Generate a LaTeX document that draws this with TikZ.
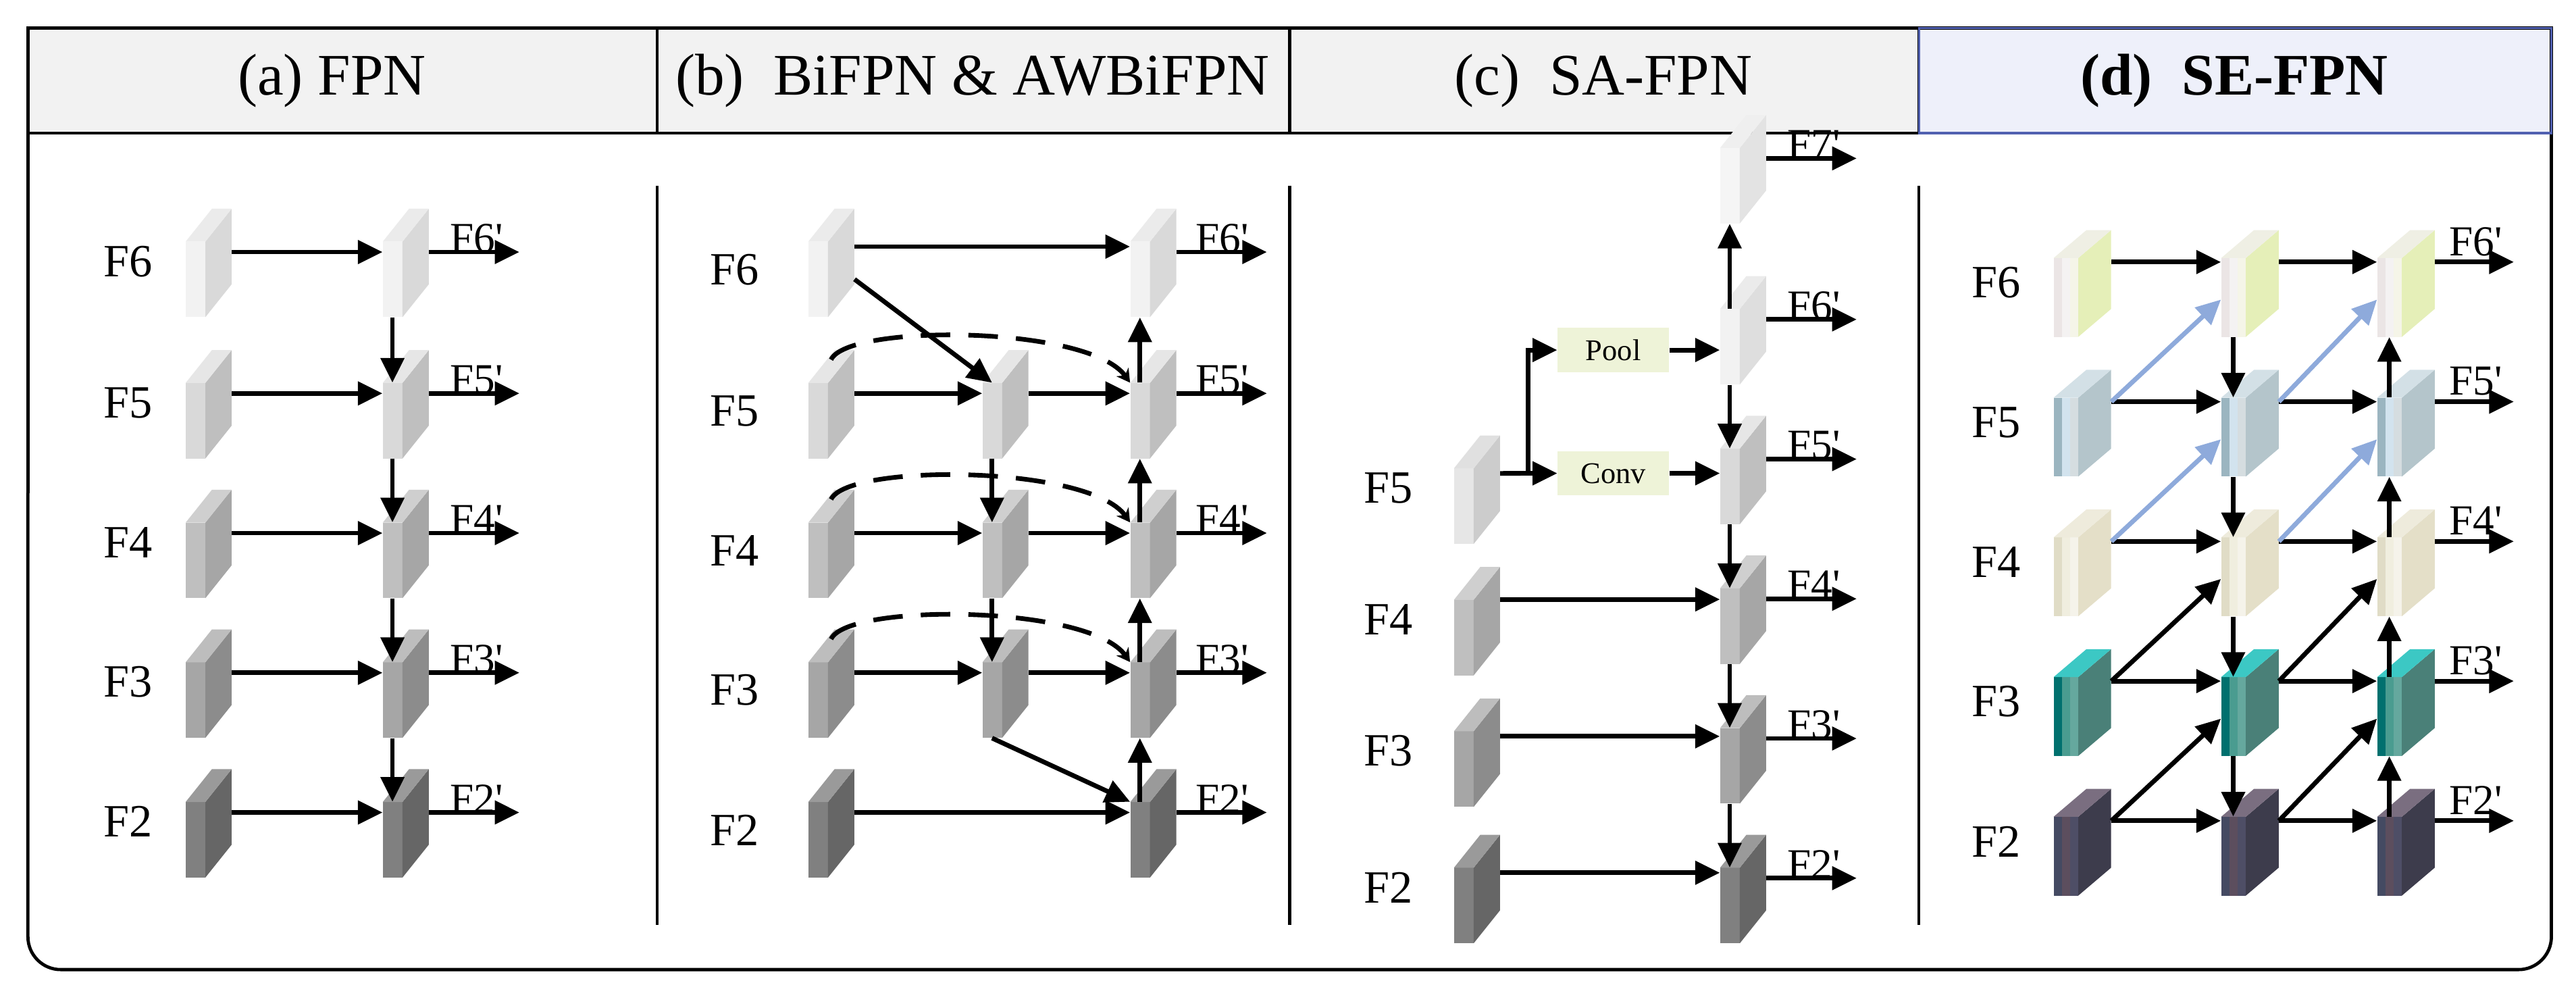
\documentclass[tikz,border=0pt]{standalone}
\usepackage{fontspec}
\setmainfont{Liberation Serif}
\usetikzlibrary{arrows.meta,calc,fit}
\newcommand\pr{\textquotesingle}
\definecolor{hdr}{HTML}{F2F2F2}
\definecolor{hdrd}{HTML}{EEF0FA}
\definecolor{hdrdb}{HTML}{5060B0}
\definecolor{pbg}{HTML}{EEF3D8}
\definecolor{blu}{HTML}{8EAADB}
\newcommand\blk[6]{% name x top front side top (hex)
  \definecolor{tf}{HTML}{#4}\definecolor{ts}{HTML}{#5}\definecolor{tp}{HTML}{#6}%
  \fill[tf] (#2,{#3+\dy}) rectangle ({#2+\fw},{#3+\dy+\hh});
  \fill[ts] ({#2+\fw},{#3+\dy}) -- ({#2+\fw+\dx},#3) -- ({#2+\fw+\dx},{#3+\hh}) -- ({#2+\fw},{#3+\dy+\hh}) -- cycle;
  \fill[tp] (#2,{#3+\dy}) -- ({#2+\dx},#3) -- ({#2+\fw+\dx},#3) -- ({#2+\fw},{#3+\dy}) -- cycle;
  \node[inner sep=0pt,fit={(#2,#3) ({#2+\fw+\dx},{#3+\dy+\hh})}] (#1) {};}
\newcommand\sblk[8]{% name x top c1 c2 c3 side top (hex)
  \definecolor{ta}{HTML}{#4}\definecolor{tb}{HTML}{#5}\definecolor{tc}{HTML}{#6}%
  \definecolor{ts}{HTML}{#7}\definecolor{tp}{HTML}{#8}%
  \fill[ta] (#2,{#3+\dy}) rectangle ({#2+\fw/3},{#3+\dy+\hh});
  \fill[tb] ({#2+\fw/3},{#3+\dy}) rectangle ({#2+2*\fw/3},{#3+\dy+\hh});
  \fill[tc] ({#2+2*\fw/3},{#3+\dy}) rectangle ({#2+\fw},{#3+\dy+\hh});
  \fill[ts] ({#2+\fw},{#3+\dy}) -- ({#2+\fw+\dx},#3) -- ({#2+\fw+\dx},{#3+\hh}) -- ({#2+\fw},{#3+\dy+\hh}) -- cycle;
  \fill[tp] (#2,{#3+\dy}) -- ({#2+\dx},#3) -- ({#2+\fw+\dx},#3) -- ({#2+\fw},{#3+\dy}) -- cycle;
  \node[inner sep=0pt,fit={(#2,#3) ({#2+\fw+\dx},{#3+\dy+\hh})}] (#1) {};}
\newcommand\E[2]{($(#1.north east)!#2!(#1.south east)$)}
\newcommand\W[2]{($(#1.north west)!#2!(#1.south west)$)}
\newcommand\B[1]{($(#1.south west)+(\fw/2,0)$)}
\newcommand\T[1]{($(#1.north west)+(\fw/2,\dy)$)}
\tikzset{
 ar/.style={line width=4pt,-{Triangle[length=0.75cm,width=0.7cm]}},
 bar/.style={ar,draw=blu},
 dsh/.style={line width=4pt,dash pattern=on 0.9cm off 0.55cm,-{Stealth[length=0.4cm,width=0.45cm]}},
 lab/.style={font=\fontsize{40}{44}\selectfont,inner sep=0pt},
 olab/.style={font=\fontsize{37}{40}\selectfont,inner sep=0pt},
 head/.style={font=\fontsize{51}{56}\selectfont},
 frame/.style={line width=2.8pt},
 box/.style={fill=pbg,minimum width=3.4cm,minimum height=1.35cm,font=\fontsize{26}{30}\selectfont,inner sep=0pt}
}
\begin{document}
\begin{tikzpicture}[x=0.05cm,y=-0.05cm]
\useasboundingbox (0,0) rectangle (1568,612);
% header
\fill[hdr] (17,17) rectangle (1168,81);
\fill[hdrd] (1168,17) rectangle (1553,81);
\draw[frame] (17,300) -- (17,17) -- (1553,17) -- (1553,300);
\draw[frame,rounded corners=1cm] (17,300) -- (17,590) -- (1553,590) -- (1553,300);
\draw[frame] (17,81) -- (1168,81);
\draw[frame] (400,17) -- (400,81) (785,17) -- (785,81) (1168,17) -- (1168,81);
\draw[hdrdb,line width=1.8pt] (1168,17) rectangle (1553,81);
\node[head] (ha) at (202,49) {(a) FPN};
\node[head] (hb) at (592,49) {(b)\ \ BiFPN \& AWBiFPN};
\node[head] (hc) at (976,49) {(c)\ \ SA-FPN};
\node[head,font=\fontsize{51}{56}\selectfont\bfseries] (hd) at (1360,49) {(d)\ \ SE-FPN};
\draw[frame] (400,113) -- (400,563) (785,113) -- (785,563) (1168,113) -- (1168,563);
% ---------- (a)
\def\fw{12}\def\dx{16}\def\dy{20}\def\hh{46}
\foreach \r/\t/\f/\s/\p in {6/127/F2F2F2/D9D9D9/EBEBEB,5/213/D9D9D9/BFBFBF/E6E6E6,4/298/BFBFBF/A6A6A6/CFCFCF,3/383/A6A6A6/8C8C8C/BDBDBD,2/468/808080/666666/9A9A9A}{
  \blk{a1\r}{113}{\t}{\f}{\s}{\p}
  \blk{a2\r}{233}{\t}{\f}{\s}{\p}
  \node[lab] (la\r) at (78,\t+32) {F\r};
  \node[olab] (oa\r) at (290,\t+18) {F\r\pr};
  \draw[ar] \E{a1\r}{.4} -- \W{a2\r}{.4};
  \draw[ar] \E{a2\r}{.4} -- ++(55,0);
}
\draw[ar] \B{a26} -- \T{a25};
\draw[ar] \B{a25} -- \T{a24};
\draw[ar] \B{a24} -- \T{a23};
\draw[ar] \B{a23} -- \T{a22};
% ---------- (b)
\foreach \r/\t/\f/\s/\p in {6/127/F2F2F2/D9D9D9/EBEBEB,5/213/D9D9D9/BFBFBF/E6E6E6,4/298/BFBFBF/A6A6A6/CFCFCF,3/383/A6A6A6/8C8C8C/BDBDBD,2/468/808080/666666/9A9A9A}{
  \blk{b1\r}{492}{\t}{\f}{\s}{\p}
  \blk{b3\r}{688}{\t}{\f}{\s}{\p}
  \node[lab] (lb\r) at (447,\t+37) {F\r};
  \node[olab] (ob\r) at (744,\t+18) {F\r\pr};
  \draw[ar] \E{b3\r}{.4} -- ++(55,0);
}
\foreach \r/\t/\f/\s/\p in {5/213/D9D9D9/BFBFBF/E6E6E6,4/298/BFBFBF/A6A6A6/CFCFCF,3/383/A6A6A6/8C8C8C/BDBDBD}{
  \blk{b2\r}{598}{\t}{\f}{\s}{\p}
  \draw[ar] \E{b1\r}{.4} -- \W{b2\r}{.4};
  \draw[ar] \E{b2\r}{.4} -- \W{b3\r}{.4};
}
\draw[ar] \E{b16}{.35} -- \W{b36}{.35};
\draw[ar] \E{b16}{.65} -- \T{b25};
\draw[ar] \E{b12}{.4} -- \W{b32}{.4};
\draw[ar] \B{b25} -- \T{b24};
\draw[ar] \B{b24} -- \T{b23};
\draw[ar] \B{b23} -- ($(b32.north west)+(0,\dy)$);
\draw[ar] \T{b32} -- \B{b33};
\draw[ar] \T{b33} -- \B{b34};
\draw[ar] \T{b34} -- \B{b35};
\draw[ar] \T{b35} -- \B{b36};
\foreach \r in {5,4,3}{
  \draw[dsh] ($(b1\r.north west)+(14,6)$) .. controls +(10,-22) and +(-25,-35) .. ($(b3\r.north west)+(0,\dy)$);
}
% ---------- (c)
\foreach \n/\x/\t/\f/\s/\p in {c17/1047/70/F5F5F5/E3E3E3/EFEFEF,c16/1047/168/F2F2F2/DEDEDE/EBEBEB,c15/885/265/E6E6E6/CCCCCC/E0E0E0,c25/1047/253/D9D9D9/BFBFBF/E6E6E6,c14/885/345/BFBFBF/A6A6A6/CFCFCF,c24/1047/338/BFBFBF/A6A6A6/CFCFCF,c13/885/425/A6A6A6/8C8C8C/BDBDBD,c23/1047/423/A6A6A6/8C8C8C/BDBDBD,c12/885/508/808080/666666/9A9A9A,c22/1047/508/808080/666666/9A9A9A}{
  \blk{\n}{\x}{\t}{\f}{\s}{\p}
}
\foreach \r/\t in {5/265,4/345,3/425,2/508}{ \node[lab] (lc\r) at (845,\t+32) {F\r}; }
\foreach \n/\r/\t in {c17/7/70,c16/6/168,c25/5/253,c24/4/338,c23/3/423,c22/2/508}{
  \node[olab] (oc\r) at (1104,\t+18) {F\r\pr};
  \draw[ar] \E{\n}{.4} -- ++(55,0);
}
\node[box] (pool) at (982,213) {Pool};
\node[box] (conv) at (982,288) {Conv};
\coordinate (sp) at (930,288);
\draw[line width=4pt] \E{c15}{.35} -- (sp);
\draw[ar] (sp) |- (pool.west);
\draw[ar] (sp) -- (conv.west);
\draw[ar] (pool.east) -- (c16.west |- pool.east);
\draw[ar] (conv.east) -- (c25.west |- conv.east);
\draw[ar] \T{c16} -- \B{c17};
\draw[ar] \B{c16} -- \T{c25};
\draw[ar] \B{c25} -- \T{c24};
\draw[ar] \B{c24} -- \T{c23};
\draw[ar] \B{c23} -- \T{c22};
\draw[ar] \E{c14}{.3} coordinate (s4) -- (c24.west |- s4);
\draw[ar] \E{c13}{.35} coordinate (s3) -- (c23.west |- s3);
\draw[ar] \E{c12}{.35} coordinate (s2) -- (c22.west |- s2);
% ---------- (d)
\def\fw{15}\def\dx{20}\def\dy{17}\def\hh{48}
\foreach \r/\t/\ca/\cb/\cc/\s/\p in {6/140/EBE5E5/F4F2F2/F5F5E8/E5EFB8/EFEFE4,5/225/9BB5C0/D2E3EE/D5DDE0/B4C5CB/D3E0E6,4/310/E0DCC6/F0EEDF/F5F3EA/E4DFC8/EEEBDC,3/395/00706E/4A9C90/65A89E/4A8078/3CC8C4,2/480/444A62/5C4E5E/4E4E66/3D3C4C/7A6E80}{
  \sblk{d1\r}{1250}{\t}{\ca}{\cb}{\cc}{\s}{\p}
  \sblk{d2\r}{1352}{\t}{\ca}{\cb}{\cc}{\s}{\p}
  \sblk{d3\r}{1447}{\t}{\ca}{\cb}{\cc}{\s}{\p}
  \node[lab] (ld\r) at (1215,\t+32) {F\r};
  \node[olab] (od\r) at (1507,\t+7) {F\r\pr};
  \draw[ar] \E{d1\r}{.3} -- \W{d2\r}{.3};
  \draw[ar] \E{d2\r}{.3} -- \W{d3\r}{.3};
  \draw[ar] \E{d3\r}{.3} -- ++(48,0);
}
\draw[bar] \E{d15}{.3} -- \W{d26}{.65};
\draw[bar] \E{d14}{.3} -- \W{d25}{.65};
\draw[bar] \E{d25}{.3} -- \W{d36}{.65};
\draw[bar] \E{d24}{.3} -- \W{d35}{.65};
\draw[ar] \E{d13}{.3} -- \W{d24}{.65};
\draw[ar] \E{d12}{.3} -- \W{d23}{.65};
\draw[ar] \E{d23}{.3} -- \W{d34}{.65};
\draw[ar] \E{d22}{.3} -- \W{d33}{.65};
\draw[ar] \B{d26} -- \T{d25};
\draw[ar] \B{d25} -- \T{d24};
\draw[ar] \B{d24} -- \T{d23};
\draw[ar] \B{d23} -- \T{d22};
\draw[ar] \T{d32} -- \B{d33};
\draw[ar] \T{d33} -- \B{d34};
\draw[ar] \T{d34} -- \B{d35};
\draw[ar] \T{d35} -- \B{d36};
\end{tikzpicture}
\end{document}
